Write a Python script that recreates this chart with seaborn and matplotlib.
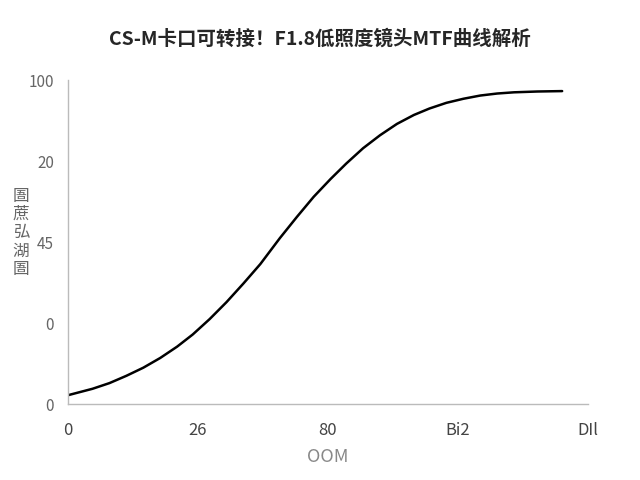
import matplotlib
matplotlib.use("Agg")
import matplotlib.pyplot as plt
import seaborn as sns
import pandas as pd

# Datos (posiciones en unidades de tick)
x_vals = [0.00, 0.19, 0.32, 0.45, 0.58, 0.71, 0.84, 0.96, 1.09, 1.22, 1.35, 1.48,
          1.63, 1.76, 1.89, 2.02, 2.14, 2.27, 2.40, 2.53, 2.66, 2.78, 2.91, 3.04,
          3.17, 3.30, 3.43, 3.61, 3.80]
mtf_vals = [0.11, 0.19, 0.26, 0.35, 0.45, 0.57, 0.71, 0.86, 1.05, 1.26, 1.49, 1.73,
            2.05, 2.31, 2.56, 2.78, 2.97, 3.16, 3.32, 3.46, 3.57, 3.65, 3.72, 3.77,
            3.81, 3.835, 3.85, 3.86, 3.865]
x_ticklabels = ["0", "26", "80", "Bi2", "DIl"]
y_ticklabels = ["0", "0", "45", "20", "100"]

title = "CS-M卡口可转接！F1.8低照度镜头MTF曲线解析"
xlabel = "OOM"
ylabel = "圄蔗弘湖圄"

sns.set_style("white")
plt.rcParams['font.family'] = ['Noto Sans CJK SC', 'DejaVu Sans']

df = pd.DataFrame({"x": x_vals, "mtf": mtf_vals})

fig = plt.figure(figsize=(6.4, 4.8), dpi=100)
ax = fig.add_axes([0.106, 0.158, 0.813, 0.675])

sns.lineplot(data=df, x="x", y="mtf", color="black", linewidth=1.8, ax=ax)

ax.set_xlim(0, 4)
ax.set_ylim(0, 4)
ax.set_xticks(range(5))
ax.set_xticklabels(x_ticklabels, fontsize=12, color="#444444")
ax.set_yticks(range(5))
ax.set_yticklabels(y_ticklabels, fontsize=11, color="#666666")
ax.tick_params(axis="x", length=5, width=1, color="#bbbbbb", pad=8)
ax.tick_params(axis="y", length=4, width=1, color="#cccccc", pad=6)
ax.set_xlabel(xlabel, fontsize=13, color="#888888", labelpad=6)
ax.set_ylabel("")

sns.despine(ax=ax)
for s in ["left", "bottom"]:
    ax.spines[s].set_color("#bbbbbb")
    ax.spines[s].set_linewidth(1)

fig.text(0.033, 0.515, "\n".join(ylabel), fontsize=12, color="#666666",
         ha="center", va="center", linespacing=1.1)
fig.text(0.5, 0.92, title, fontsize=14, fontweight="bold", ha="center", va="center")

fig.savefig("out.png", dpi=100)
